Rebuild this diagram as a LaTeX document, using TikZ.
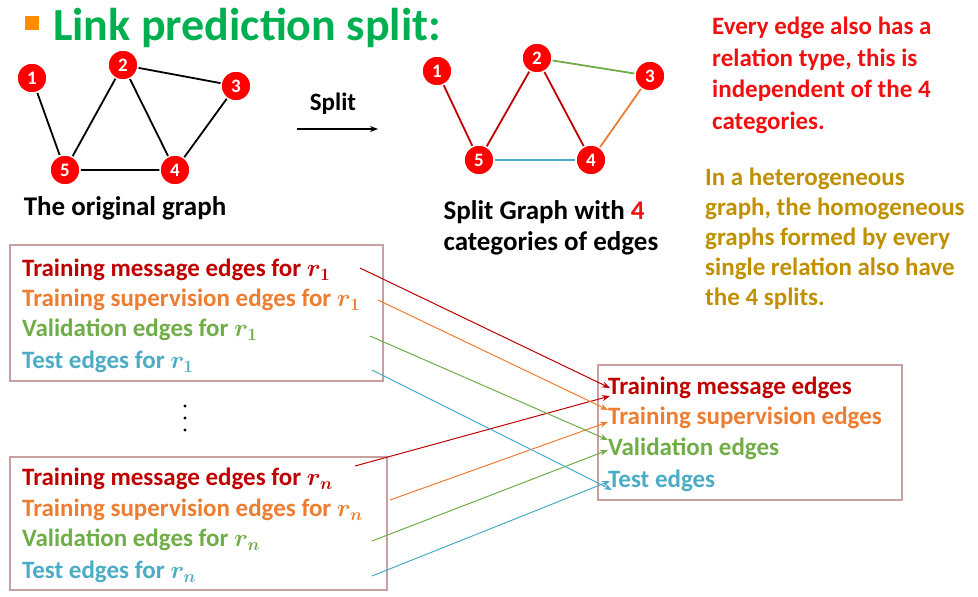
\documentclass[tikz,border=0pt]{standalone}
\usepackage{bm}
\usepackage{fontspec}
\setmainfont{Carlito}
\usetikzlibrary{arrows.meta}
\definecolor{dred}{HTML}{C00000}
\definecolor{orn}{HTML}{ED7D31}
\definecolor{grn}{HTML}{70AD47}
\definecolor{blu}{HTML}{4BACC6}
\definecolor{ttl}{HTML}{00B050}
\definecolor{gold}{HTML}{C09000}
\definecolor{bx}{HTML}{C8A0A0}
\definecolor{rtx}{HTML}{F01010}
\tikzset{
 v/.style={circle,fill=red,draw=white,line width=1.5pt,minimum size=30pt,inner sep=0pt,text=white,font=\bfseries\fontsize{19}{19}\selectfont},
 t/.style={font=\bfseries\fontsize{25}{30}\selectfont,inner sep=0pt},
 lt/.style={t,anchor=west},
 e/.style={line width=1.8pt},
 ar/.style={line width=1pt,-{Stealth[length=8pt,width=6pt]}},
 box/.style={draw=bx,line width=2pt}
}
\begin{document}
\begin{tikzpicture}[x=1pt,y=-1pt]
\useasboundingbox (0,0) rectangle (978,597);
\fill[orange!90!yellow] (25,16) rectangle (39,30) node[coordinate](bul){};
\node[t,anchor=west,text=ttl,font=\bfseries\fontsize{46}{50}\selectfont] (title) at (53,28) {Link prediction split:};
% graph 1
\node[v] (a1) at (32,78) {1};
\node[v] (a2) at (123,65) {2};
\node[v] (a3) at (236,86) {3};
\node[v] (a5) at (65,170) {5};
\node[v] (a4) at (175,170) {4};
\draw[e] (a1)--(a5) (a5)--(a2) (a2)--(a4) (a2)--(a3) (a3)--(a4) (a5)--(a4);
\node[t,font=\bfseries\fontsize{27}{30}\selectfont] (og) at (125,208) {The original graph};
\node[t] (sp) at (333,104) {Split};
\coordinate (s1) at (297,129); \coordinate (s2) at (378,129);
\draw[line width=1.2pt,-{Stealth[length=8pt]}] (s1)--(s2);
% graph 2
\node[v] (b1) at (437,71) {1};
\node[v] (b2) at (537,58) {2};
\node[v] (b3) at (650,76) {3};
\node[v] (b5) at (479,160) {5};
\node[v] (b4) at (591,160) {4};
\draw[e,dred] (b1)--(b5) (b5)--(b2) (b2)--(b4);
\draw[e,grn] (b2)--(b3);
\draw[e,orn] (b3)--(b4);
\draw[e,blu] (b5)--(b4);
\node[t,align=left,font=\bfseries\fontsize{27}{31}\selectfont] (sg) at (551,228) {Split Graph with \textcolor{rtx}{4}\\categories of edges};
\node[t,anchor=north west,align=left,text=rtx,font=\bfseries\fontsize{25}{31.5}\selectfont] (rn) at (712,17) {Every edge also has a\\relation type, this is\\independent of the 4\\categories.};
\node[t,anchor=north west,align=left,text=gold,font=\bfseries\fontsize{25}{30}\selectfont] (gn) at (705,168) {In a heterogeneous\\graph, the homogeneous\\graphs formed by every\\single relation also have\\the 4 splits.};
% boxes
\draw[box] (10,245) rectangle (383,381);
\draw[box] (10,457) rectangle (387,590);
\draw[box] (598,365) rectangle (902,500);
\node[lt,text=dred] (p1) at (22,270) {Training message edges for $\bm{r_1}$};
\node[lt,text=orn] (p2) at (22,300) {Training supervision edges for $\bm{r_1}$};
\node[lt,text=grn] (p3) at (22,330) {Validation edges for $\bm{r_1}$};
\node[lt,text=blu] (p4) at (22,362) {Test edges for $\bm{r_1}$};
\foreach \yy [count=\i] in {406,418,430} \fill (185,\yy) circle (1.6pt) node[coordinate] (d\i) {};
\node[lt,text=dred] (q1) at (22,479) {Training message edges for $\bm{r_n}$};
\node[lt,text=orn] (q2) at (22,510) {Training supervision edges for $\bm{r_n}$};
\node[lt,text=grn] (q3) at (22,540) {Validation edges for $\bm{r_n}$};
\node[lt,text=blu] (q4) at (22,572) {Test edges for $\bm{r_n}$};
\node[lt,text=dred] (m1) at (608,388) {Training message edges};
\node[lt,text=orn] (m2) at (608,418) {Training supervision edges};
\node[lt,text=grn] (m3) at (608,449) {Validation edges};
\node[lt,text=blu] (m4) at (608,481) {Test edges};
\coordinate (pa) at (360,268); \coordinate (pb) at (378,300); \coordinate (pc) at (370,336); \coordinate (pd) at (372,370);
\coordinate (qa) at (355,466); \coordinate (qb) at (390,500); \coordinate (qc) at (372,541); \coordinate (qd) at (372,576);
\coordinate (ma) at (610,388); \coordinate (mma) at (610,396);
\coordinate (mb) at (608,410); \coordinate (mmb) at (608,422);
\coordinate (mc) at (608,440); \coordinate (mmc) at (608,450);
\coordinate (md) at (612,490); \coordinate (mmd) at (610,481);
\draw[ar,dred] (pa)--(ma); \draw[ar,dred] (qa)--(mma);
\draw[ar,orn] (pb)--(mb); \draw[ar,orn] (qb)--(mmb);
\draw[ar,grn] (pc)--(mc); \draw[ar,grn] (qc)--(mmc);
\draw[ar,blu] (pd)--(md); \draw[ar,blu] (qd)--(mmd);
\end{tikzpicture}
\end{document}
